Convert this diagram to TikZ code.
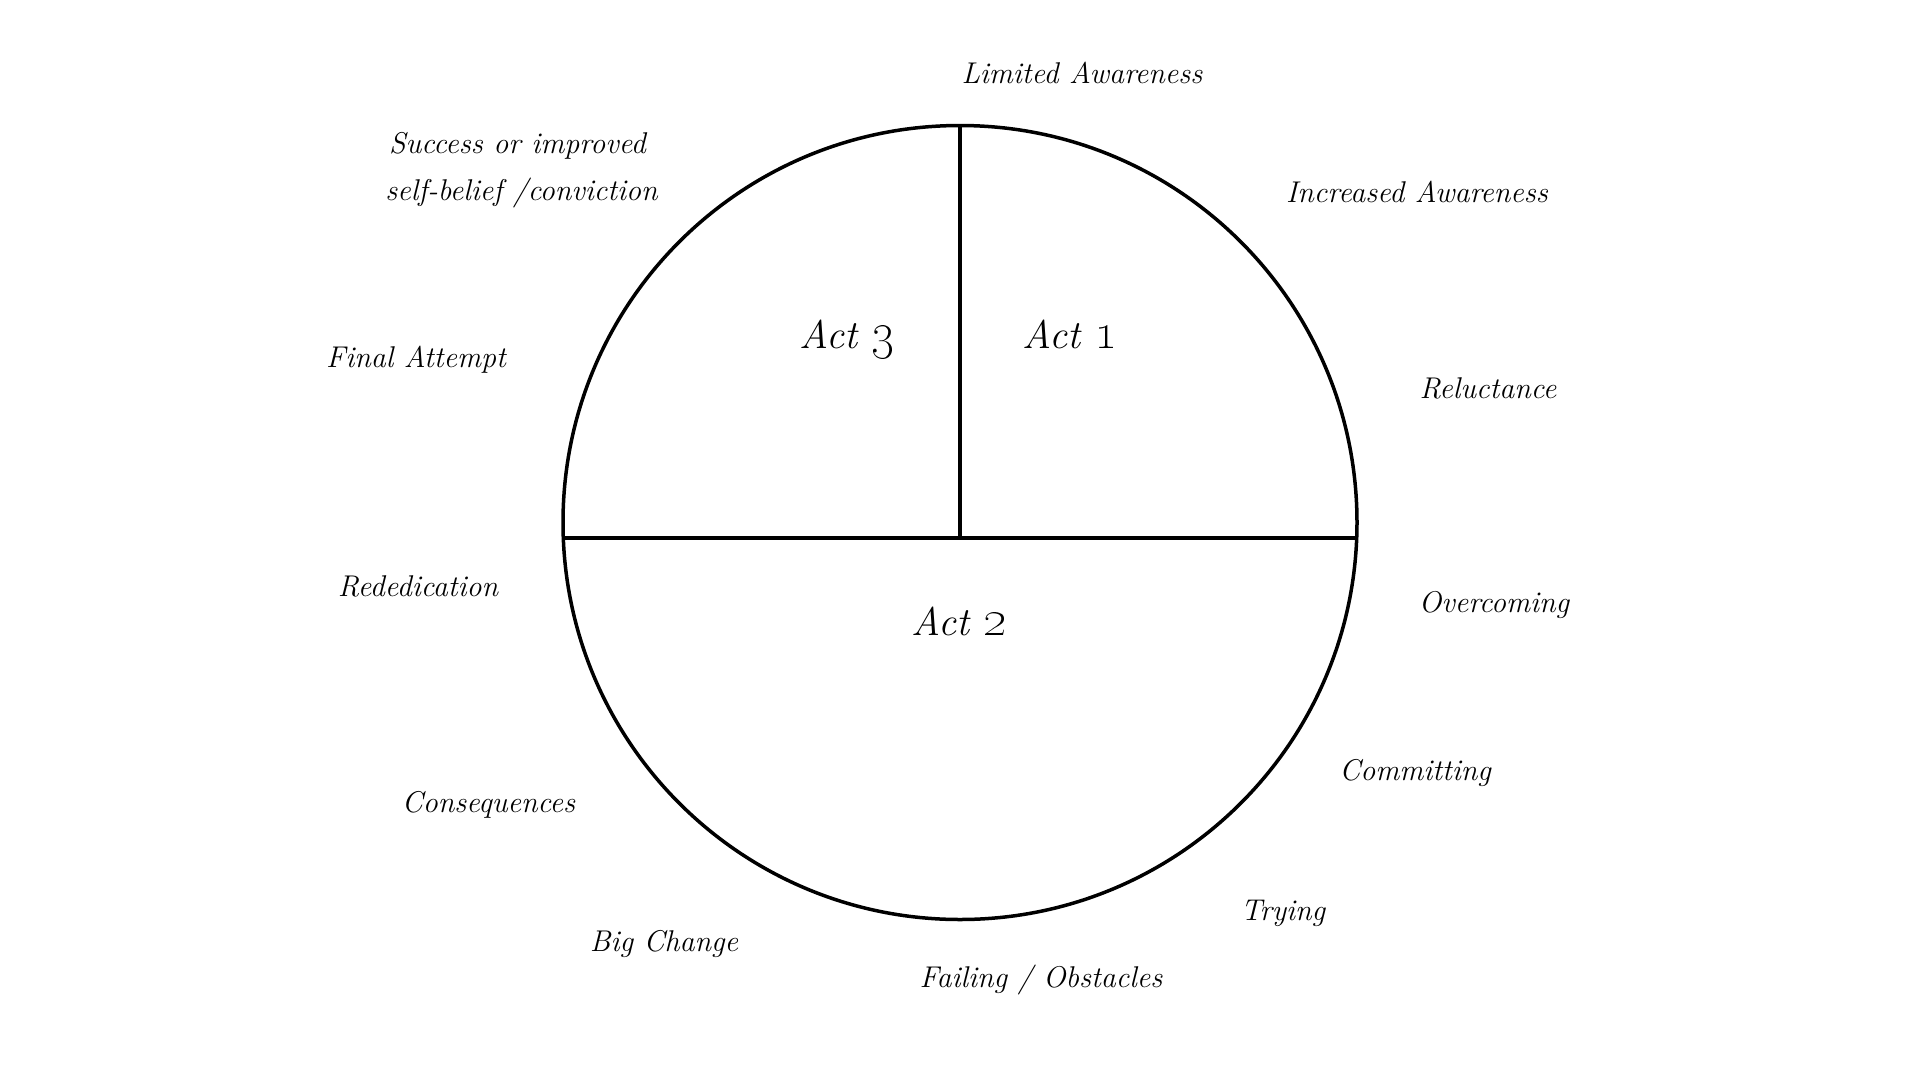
\documentclass[tikz,border=0pt]{standalone}
\begin{document}
\begin{tikzpicture}[x=1pt,y=-1pt,
  lbl/.style={inner sep=0pt,anchor=base,font=\fontsize{30}{37}\selectfont\itshape,align=center},
  actlbl/.style={inner sep=0pt,anchor=base,font=\fontsize{40}{48}\selectfont\itshape},
  ring/.style={line width=3.5pt,draw=black}]
\useasboundingbox (0,0) rectangle (1920,1080);
\fill[white] (0,0) rectangle (1920,1080);
% circle and dividers
\coordinate (c) at (960,522.5);
\coordinate (top) at (960,125.5);
\coordinate (mid) at (960,538);
\coordinate (lft) at (563.3,538);
\coordinate (rgt) at (1356.7,538);
\draw[ring] (c) circle[radius=397];
\draw[ring] (lft) -- (rgt);
\draw[ring] (top) -- (mid);
% act labels
\node[actlbl] (act3) at (847.5,348) {Act \scalebox{1.45}{\oldstylenums{3}}};
\node[actlbl] (act1) at (1070,348) {Act \scalebox{1.45}{\oldstylenums{1}}};
\node[actlbl] (act2) at (959,635) {Act \scalebox{1.45}{\oldstylenums{2}}};
% stage labels
\node[lbl] (la) at (1082,83) {Limited Awareness};
\node[lbl] (ia) at (1417,202) {Increased Awareness};
\node[lbl] (re) at (1488,398) {Reluctance};
\node[lbl] (ov) at (1494,612) {Overcoming};
\node[lbl] (co) at (1415,780) {Committing};
\node[lbl] (tr) at (1283,920) {Trying};
\node[lbl] (fo) at (1041,987) {Failing / Obstacles};
\node[lbl] (bc) at (664,951) {Big Change};
\node[lbl] (cq) at (488.6,812) {Consequences};
\node[lbl] (rd) at (418,596) {Rededication};
\node[lbl] (fa) at (416,367) {Final Attempt};
\node[lbl] (s1) at (517.5,153) {Success or improved};
\node[lbl] (s2) at (521.5,200) {self-belief /conviction};
\end{tikzpicture}
\end{document}
